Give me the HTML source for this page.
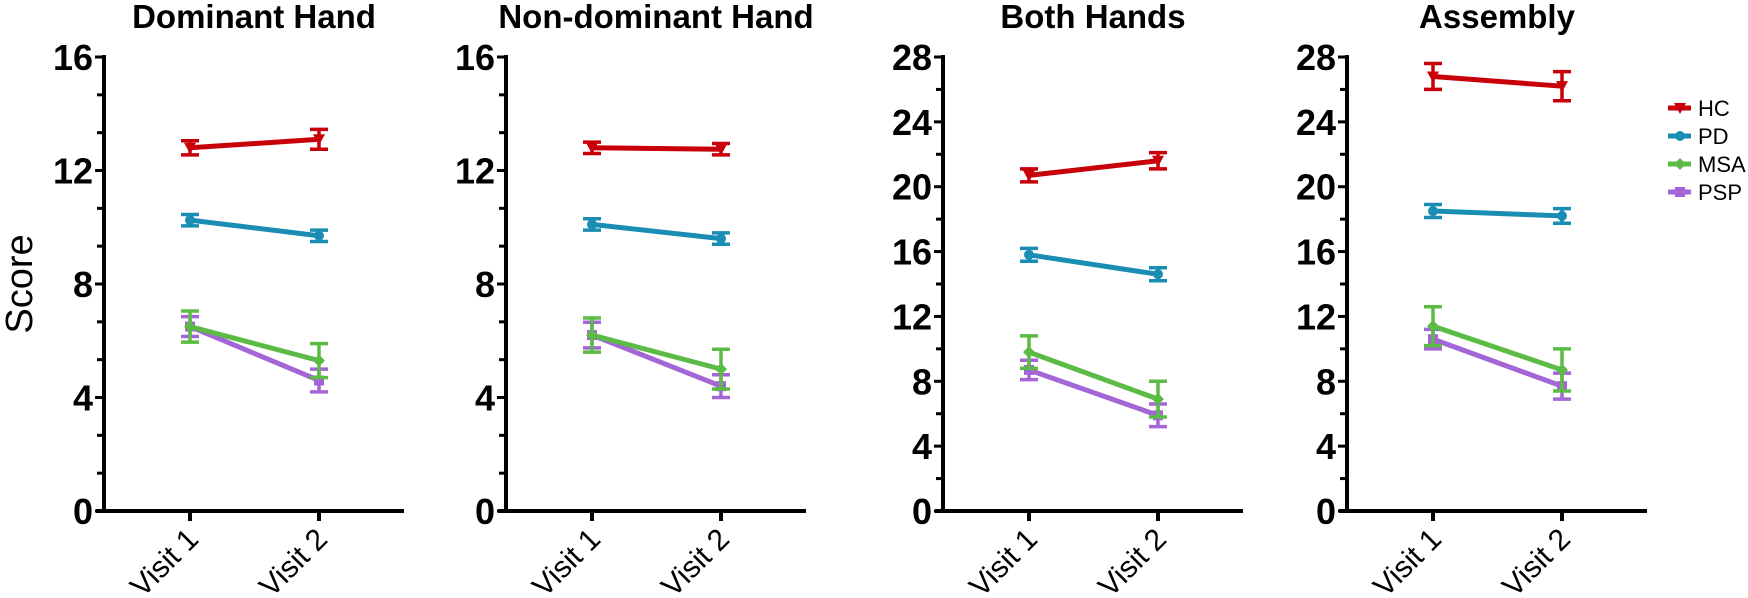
<!DOCTYPE html>
<html><head><meta charset="utf-8"><style>
body{margin:0;background:#fff}
svg{display:block;font-family:"Liberation Sans",Arial,sans-serif}
</style></head><body>
<svg id="c" width="1748" height="598" viewBox="0 0 1748 598"></svg>
<script>
const panelTitles=["Dominant Hand","Non-dominant Hand","Both Hands","Assembly"];
const panelMax=[16,16,28,28];
const panelMinorCount=[2,2,1,1];
const categories=["Visit 1","Visit 2"];
const groups=["HC","PD","MSA","PSP"];
const colors=["#c8000a","#1a8db5","#5bbb45","#a466d6"];
const hcMean=[[12.8,13.1],[12.8,12.75],[20.7,21.6],[26.8,26.2]];
const hcErr=[[0.25,0.35],[0.2,0.2],[0.4,0.5],[0.8,0.9]];
const pdMean=[[10.25,9.7],[10.1,9.6],[15.8,14.6],[18.5,18.2]];
const pdErr=[[0.2,0.2],[0.2,0.2],[0.4,0.4],[0.4,0.45]];
const msaMean=[[6.5,5.3],[6.2,5.0],[9.8,6.9],[11.4,8.7]];
const msaErr=[[0.55,0.6],[0.6,0.7],[1.0,1.1],[1.2,1.3]];
const pspMean=[[6.5,4.6],[6.2,4.4],[8.7,5.9],[10.6,7.7]];
const pspErr=[[0.35,0.4],[0.45,0.4],[0.6,0.7],[0.6,0.8]];
const means=[hcMean,pdMean,msaMean,pspMean];
const errs=[hcErr,pdErr,msaErr,pspErr];
const axisX=[104,506,943,1347];

const NS="http://www.w3.org/2000/svg";
const svg=document.getElementById('c');
function mk(tag,attrs,parent){const e=document.createElementNS(NS,tag);for(const k in attrs)e.setAttribute(k,attrs[k]);(parent||svg).appendChild(e);return e;}
const yTop=57,yBot=511;

function marker(s,x,y,col,parent){
  if(s===0) return mk('polygon',{points:`${x-6},${y-5} ${x+6},${y-5} ${x},${y+6}`,fill:col},parent);
  if(s===1) return mk('circle',{cx:x,cy:y,r:5,fill:col},parent);
  if(s===2) return mk('polygon',{points:`${x},${y-6} ${x+6},${y} ${x},${y+6} ${x-6},${y}`,fill:col},parent);
  return mk('rect',{x:x-5,y:y-5,width:10,height:10,fill:col},parent);
}

const yl=mk('text',{x:32,y:284,'font-size':38,'text-anchor':'middle',transform:'rotate(-90 32 284)'});
yl.textContent="Score";



panelTitles.forEach((t,p)=>{
  const ax=axisX[p];
  const g=mk('g',{});
  
  
  const y=v=>yBot-(v/panelMax[p])*(yBot-yTop);
  const xs=i=>ax+86+i*129;
  const tt=mk('text',{x:ax+150,y:28,'font-size':33,'font-weight':'bold','text-anchor':'middle'},g);
  tt.textContent=t;
  
  
  const ya=mk('line',{x1:ax,y1:yTop-2,x2:ax,y2:yBot+2,stroke:'#000','stroke-width':4},g);
  
  
  const xa=mk('line',{x1:ax-8,y1:yBot,x2:ax+300,y2:yBot,stroke:'#000','stroke-width':4},g);
  
  
  const step=4,nm=panelMinorCount[p];
  for(let k=0;k*step/(nm+1)<=panelMax[p]+1e-9;k++){
    const v=k*step/(nm+1);
    const major=k%(nm+1)===0;
    mk('line',{x1:ax-(major?9:7),y1:y(v),x2:ax,y2:y(v),stroke:'#000','stroke-width':3},g);
    if(major){
      const lb=mk('text',{x:ax-11,y:y(v)+13,'font-size':36,'font-weight':'bold','text-anchor':'end'},g);
      lb.textContent=Math.round(v);
      
      
    }
  }
  categories.forEach((c,i)=>{
    mk('line',{x1:xs(i),y1:yBot,x2:xs(i),y2:yBot+10,stroke:'#000','stroke-width':4},g);
    const lx=xs(i)+10,ly=yBot+30;
    const lb=mk('text',{x:lx,y:ly,'font-size':30,'text-anchor':'end',transform:`rotate(-45 ${lx} ${ly})`},g);
    lb.textContent=c;
    
    
  });
  for(let s=3;s>=0;s--){
    const m=means[s][p],e=errs[s][p],col=colors[s];
    const sg=mk('g',{},g);
    
    
    mk('line',{x1:xs(0),y1:y(m[0]),x2:xs(1),y2:y(m[1]),stroke:col,'stroke-width':5},sg);
    m.forEach((v,i)=>{
      const x=xs(i),y1=y(v+e[i]),y2=y(v-e[i]);
      mk('line',{x1:x,y1:y1,x2:x,y2:y2,stroke:col,'stroke-width':3.5},sg);
      mk('line',{x1:x-9,y1:y1,x2:x+9,y2:y1,stroke:col,'stroke-width':3.5},sg);
      mk('line',{x1:x-9,y1:y2,x2:x+9,y2:y2,stroke:col,'stroke-width':3.5},sg);
      const pt=marker(s,x,y(v),col,sg);
      
      
    });
  }
});
groups.forEach((gname,s)=>{
  const ly=108+s*28;
  const lg=mk('g',{});
  
  
  mk('line',{x1:1668,y1:ly,x2:1691,y2:ly,stroke:colors[s],'stroke-width':5},lg);
  marker(s,1680,ly,colors[s],lg);
  const t=mk('text',{x:1698,y:ly+8,'font-size':22},lg);
  t.textContent=gname;
});
</script>
</body></html>
